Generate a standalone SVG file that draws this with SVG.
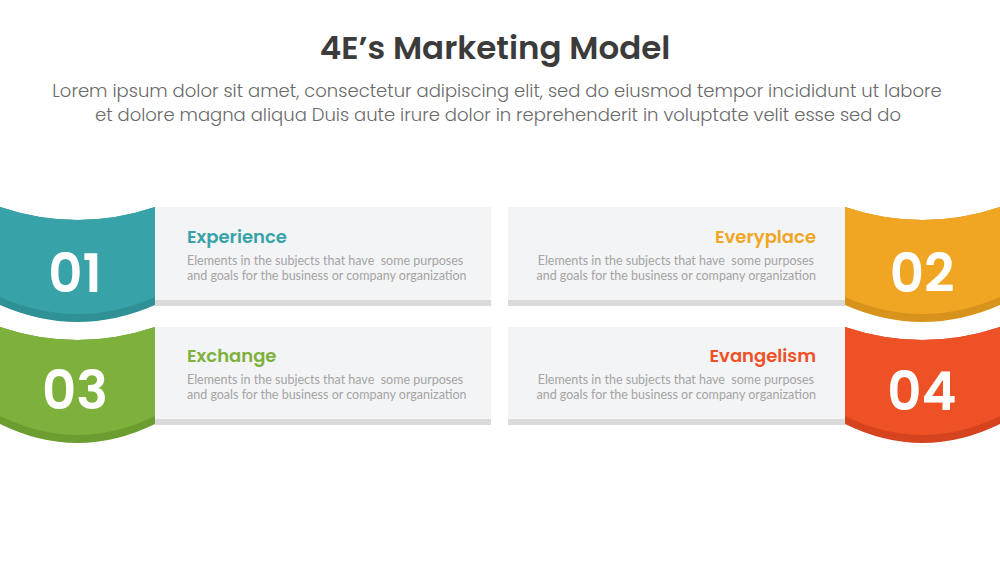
<svg xmlns="http://www.w3.org/2000/svg" width="1000" height="563" viewBox="0 0 1000 563">
<style>
.title{font-family:Poppins,Inter,"Open Sans",sans-serif;font-weight:600;font-size:32.5px;fill:#3b3b3b;text-anchor:middle}
.sub{font-family:Poppins,Inter,"Open Sans",sans-serif;font-weight:300;font-size:18px;fill:#6a6a6a;text-anchor:middle}
.card{fill:#f3f4f6}
.strip{fill:#dadada}
.num{font-family:Poppins,Inter,"Open Sans",sans-serif;font-weight:600;font-size:53px;fill:#ffffff;text-anchor:middle}
.head{font-family:Poppins,Inter,"Open Sans",sans-serif;font-weight:600;font-size:18px}
.desc{font-family:Lato,"Liberation Sans",sans-serif;font-size:12.5px;fill:#a4a4a4;white-space:pre}
.end{text-anchor:end}
</style>
<rect width="1000" height="563" fill="#ffffff"/>
<g id="header">
<text class="title" x="495" y="59">4E’s Marketing Model</text>
<text class="sub" x="497" y="97">Lorem ipsum dolor sit amet, consectetur adipiscing elit, sed do eiusmod tempor incididunt ut labore</text>
<text class="sub" x="498" y="121">et dolore magna aliqua Duis aute irure dolor in reprehenderit in voluptate velit esse sed do</text>
</g>
<g id="connectors"></g>
<g id="node-01">
<rect class="card" x="155" y="207" width="336" height="99"/>
<rect class="strip" x="155" y="300" width="336" height="6"/>
<path d="M0,207 Q77.5,233 155,207 L155,305 Q77.5,339 0,305 Z" fill="#2f9196"/>
<path d="M0,207 Q77.5,233 155,207 L155,297 Q77.5,331 0,297 Z" fill="#37a3a8"/>
<text class="num" x="75" y="292">01</text>
<text class="head" x="187" y="243" fill="#37a3a8">Experience</text>
<text class="desc" x="187" y="265">Elements in the subjects that have  some purposes</text>
<text class="desc" x="187" y="280">and goals for the business or company organization</text>
</g>
<g id="node-02">
<rect class="card" x="508" y="207" width="337" height="99"/>
<rect class="strip" x="508" y="300" width="337" height="6"/>
<path d="M845,207 Q922.5,233 1000,207 L1000,305 Q922.5,339 845,305 Z" fill="#d8931d"/>
<path d="M845,207 Q922.5,233 1000,207 L1000,297 Q922.5,331 845,297 Z" fill="#f0a623"/>
<text class="num" x="922" y="292">02</text>
<text class="head end" x="816" y="243" fill="#f0a623">Everyplace</text>
<text class="desc end" x="814" y="265">Elements in the subjects that have  some purposes</text>
<text class="desc end" x="816" y="280">and goals for the business or company organization</text>
</g>
<g id="node-03">
<rect class="card" x="155" y="327" width="336" height="98"/>
<rect class="strip" x="155" y="419" width="336" height="6"/>
<path d="M0,327 Q77.5,353 155,327 L155,424 Q77.5,462 0,424 Z" fill="#6c9d31"/>
<path d="M0,327 Q77.5,353 155,327 L155,416 Q77.5,454 0,416 Z" fill="#7db13b"/>
<text class="num" x="75" y="409">03</text>
<text class="head" x="187" y="362" fill="#7db13b">Exchange</text>
<text class="desc" x="187" y="384">Elements in the subjects that have  some purposes</text>
<text class="desc" x="187" y="399">and goals for the business or company organization</text>
</g>
<g id="node-04">
<rect class="card" x="508" y="327" width="337" height="98"/>
<rect class="strip" x="508" y="419" width="337" height="6"/>
<path d="M845,327 Q922.5,353 1000,327 L1000,424 Q922.5,462 845,424 Z" fill="#d6441f"/>
<path d="M845,327 Q922.5,353 1000,327 L1000,416 Q922.5,454 845,416 Z" fill="#ee5125"/>
<text class="num" x="922" y="410">04</text>
<text class="head end" x="816" y="362" fill="#ee5125">Evangelism</text>
<text class="desc end" x="814" y="384">Elements in the subjects that have  some purposes</text>
<text class="desc end" x="816" y="399">and goals for the business or company organization</text>
</g>
</svg>
